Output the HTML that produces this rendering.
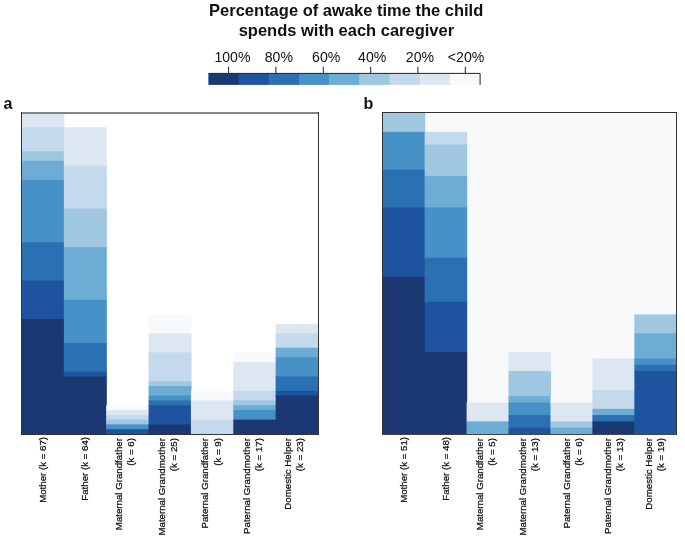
<!DOCTYPE html>
<html><head><meta charset="utf-8"><style>
html,body{margin:0;padding:0;background:#fff;}
svg{display:block;}
text{font-family:"Liberation Sans",sans-serif;fill:#111;}
.lb{stroke:#111;stroke-width:0.25px;}
svg{will-change:transform;}
.tt{font-size:16.5px;font-weight:bold;}
.lg{font-size:14.1px;}
.lb{font-size:9.7px;}
.pl{font-size:16px;font-weight:bold;}
</style></head><body>
<svg width="685" height="539" viewBox="0 0 685 539">
<text x="346.2" y="16.2" text-anchor="middle" class="tt">Percentage of awake time the child</text>
<text x="346.4" y="35.8" text-anchor="middle" class="tt">spends with each caregiver</text>
<rect x="208.40" y="73.40" width="30.69" height="11.50" fill="#1c3873"/>
<rect x="238.59" y="73.40" width="30.69" height="11.50" fill="#1e53a0"/>
<rect x="268.78" y="73.40" width="30.69" height="11.50" fill="#2a70b3"/>
<rect x="298.97" y="73.40" width="30.69" height="11.50" fill="#4691c5"/>
<rect x="329.16" y="73.40" width="30.69" height="11.50" fill="#6dacd5"/>
<rect x="359.34" y="73.40" width="30.69" height="11.50" fill="#9fc8e0"/>
<rect x="389.53" y="73.40" width="30.69" height="11.50" fill="#c5d9ed"/>
<rect x="419.72" y="73.40" width="30.69" height="11.50" fill="#dde7f2"/>
<rect x="449.91" y="73.40" width="30.19" height="11.50" fill="#f7f9fb"/>
<path d="M208.40 73.40H480.10V84.90" fill="none" stroke="#222" stroke-width="1"/>
<path d="M228.60 66.8V73.40" stroke="#222" stroke-width="1"/>
<text x="232.40" y="61.8" text-anchor="middle" class="lg">100%</text>
<path d="M275.90 66.8V73.40" stroke="#222" stroke-width="1"/>
<text x="278.85" y="61.8" text-anchor="middle" class="lg">80%</text>
<path d="M323.30 66.8V73.40" stroke="#222" stroke-width="1"/>
<text x="326.20" y="61.8" text-anchor="middle" class="lg">60%</text>
<path d="M370.70 66.8V73.40" stroke="#222" stroke-width="1"/>
<text x="372.20" y="61.8" text-anchor="middle" class="lg">40%</text>
<path d="M417.90 66.8V73.40" stroke="#222" stroke-width="1"/>
<text x="419.95" y="61.8" text-anchor="middle" class="lg">20%</text>
<path d="M465.30 66.8V73.40" stroke="#222" stroke-width="1"/>
<text x="466.10" y="61.8" text-anchor="middle" class="lg">&lt;20%</text>
<text x="3.5" y="108.6" class="pl">a</text>
<text x="363.6" y="108.6" class="pl">b</text>
<rect x="21.50" y="112.80" width="42.96" height="15.38" fill="#dde7f2"/>
<rect x="21.50" y="127.18" width="42.96" height="24.97" fill="#c5d9ed"/>
<rect x="21.50" y="151.15" width="42.96" height="10.59" fill="#9fc8e0"/>
<rect x="21.50" y="160.74" width="42.96" height="20.18" fill="#6dacd5"/>
<rect x="21.50" y="179.92" width="42.96" height="63.32" fill="#4691c5"/>
<rect x="21.50" y="242.24" width="42.96" height="39.35" fill="#2a70b3"/>
<rect x="21.50" y="280.59" width="42.96" height="39.35" fill="#1e53a0"/>
<rect x="21.50" y="318.94" width="42.96" height="115.56" fill="#1c3873"/>
<rect x="63.86" y="127.18" width="42.96" height="39.35" fill="#dde7f2"/>
<rect x="63.86" y="165.53" width="42.96" height="44.15" fill="#c5d9ed"/>
<rect x="63.86" y="208.68" width="42.96" height="39.35" fill="#9fc8e0"/>
<rect x="63.86" y="247.03" width="42.96" height="53.73" fill="#6dacd5"/>
<rect x="63.86" y="299.77" width="42.96" height="44.15" fill="#4691c5"/>
<rect x="63.86" y="342.91" width="42.96" height="29.76" fill="#2a70b3"/>
<rect x="63.86" y="371.68" width="42.96" height="5.79" fill="#1e53a0"/>
<rect x="63.86" y="376.47" width="42.96" height="58.03" fill="#1c3873"/>
<rect x="106.21" y="405.24" width="42.96" height="5.79" fill="#f7f9fb"/>
<rect x="106.21" y="410.03" width="42.96" height="5.79" fill="#dde7f2"/>
<rect x="106.21" y="414.82" width="42.96" height="5.79" fill="#c5d9ed"/>
<rect x="106.21" y="419.62" width="42.96" height="5.79" fill="#9fc8e0"/>
<rect x="106.21" y="424.41" width="42.96" height="5.79" fill="#4691c5"/>
<rect x="106.21" y="429.21" width="42.96" height="5.29" fill="#1e53a0"/>
<rect x="148.57" y="314.15" width="42.96" height="20.18" fill="#f7f9fb"/>
<rect x="148.57" y="333.33" width="42.96" height="20.18" fill="#dde7f2"/>
<rect x="148.57" y="352.50" width="42.96" height="29.76" fill="#c5d9ed"/>
<rect x="148.57" y="381.27" width="42.96" height="5.79" fill="#9fc8e0"/>
<rect x="148.57" y="386.06" width="42.96" height="10.59" fill="#6dacd5"/>
<rect x="148.57" y="395.65" width="42.96" height="5.79" fill="#4691c5"/>
<rect x="148.57" y="400.44" width="42.96" height="5.79" fill="#2a70b3"/>
<rect x="148.57" y="405.24" width="42.96" height="20.18" fill="#1e53a0"/>
<rect x="148.57" y="424.41" width="42.96" height="10.09" fill="#1c3873"/>
<rect x="190.93" y="390.85" width="42.96" height="10.59" fill="#f7f9fb"/>
<rect x="190.93" y="400.44" width="42.96" height="20.18" fill="#dde7f2"/>
<rect x="190.93" y="419.62" width="42.96" height="14.88" fill="#c5d9ed"/>
<rect x="233.29" y="352.50" width="42.96" height="10.59" fill="#f7f9fb"/>
<rect x="233.29" y="362.09" width="42.96" height="29.76" fill="#dde7f2"/>
<rect x="233.29" y="390.85" width="42.96" height="10.59" fill="#c5d9ed"/>
<rect x="233.29" y="400.44" width="42.96" height="5.79" fill="#9fc8e0"/>
<rect x="233.29" y="405.24" width="42.96" height="5.79" fill="#6dacd5"/>
<rect x="233.29" y="410.03" width="42.96" height="10.59" fill="#4691c5"/>
<rect x="233.29" y="419.62" width="42.96" height="14.88" fill="#1c3873"/>
<rect x="275.64" y="323.74" width="42.36" height="10.59" fill="#dde7f2"/>
<rect x="275.64" y="333.33" width="42.36" height="15.38" fill="#c5d9ed"/>
<rect x="275.64" y="347.71" width="42.36" height="10.59" fill="#6dacd5"/>
<rect x="275.64" y="357.30" width="42.36" height="20.18" fill="#4691c5"/>
<rect x="275.64" y="376.47" width="42.36" height="15.38" fill="#2a70b3"/>
<rect x="275.64" y="390.85" width="42.36" height="5.79" fill="#1e53a0"/>
<rect x="275.64" y="395.65" width="42.36" height="38.85" fill="#1c3873"/>
<text transform="translate(45.50,436.90) rotate(-90)" text-anchor="end" class="lb">Mother (k = 67)</text>
<text transform="translate(87.90,436.90) rotate(-90)" text-anchor="end" class="lb">Father (k = 64)</text>
<text transform="translate(121.80,438.10) rotate(-90)" text-anchor="end" class="lb">Maternal Grandfather</text>
<text transform="translate(133.70,438.10) rotate(-90)" text-anchor="end" class="lb">(k = 6)</text>
<text transform="translate(165.30,438.10) rotate(-90)" text-anchor="end" class="lb">Maternal Grandmother</text>
<text transform="translate(176.80,438.10) rotate(-90)" text-anchor="end" class="lb">(k = 25)</text>
<text transform="translate(208.40,438.10) rotate(-90)" text-anchor="end" class="lb">Paternal Grandfather</text>
<text transform="translate(220.70,438.10) rotate(-90)" text-anchor="end" class="lb">(k = 9)</text>
<text transform="translate(250.30,438.10) rotate(-90)" text-anchor="end" class="lb">Paternal Grandmother</text>
<text transform="translate(261.80,438.10) rotate(-90)" text-anchor="end" class="lb">(k = 17)</text>
<text transform="translate(291.20,438.10) rotate(-90)" text-anchor="end" class="lb">Domestic Helper</text>
<text transform="translate(302.70,438.10) rotate(-90)" text-anchor="end" class="lb">(k = 23)</text>
<rect x="382.70" y="113.00" width="293.60" height="321.00" fill="#f7f9fb"/>
<rect x="382.70" y="113.00" width="293.60" height="0.8" fill="#fdfdfe"/>
<rect x="382.70" y="113.00" width="42.54" height="19.88" fill="#9fc8e0"/>
<rect x="382.70" y="131.88" width="42.54" height="38.76" fill="#4691c5"/>
<rect x="382.70" y="169.65" width="42.54" height="38.76" fill="#2a70b3"/>
<rect x="382.70" y="207.41" width="42.54" height="70.24" fill="#1e53a0"/>
<rect x="382.70" y="276.65" width="42.54" height="157.85" fill="#1c3873"/>
<rect x="424.64" y="131.88" width="42.54" height="13.59" fill="#c5d9ed"/>
<rect x="424.64" y="144.47" width="42.54" height="32.47" fill="#9fc8e0"/>
<rect x="424.64" y="175.94" width="42.54" height="32.47" fill="#6dacd5"/>
<rect x="424.64" y="207.41" width="42.54" height="51.35" fill="#4691c5"/>
<rect x="424.64" y="257.76" width="42.54" height="45.06" fill="#2a70b3"/>
<rect x="424.64" y="301.82" width="42.54" height="51.35" fill="#1e53a0"/>
<rect x="424.64" y="352.18" width="42.54" height="82.32" fill="#1c3873"/>
<rect x="466.59" y="402.53" width="42.54" height="19.88" fill="#dde7f2"/>
<rect x="466.59" y="421.41" width="42.54" height="13.09" fill="#6dacd5"/>
<rect x="508.53" y="352.18" width="42.54" height="19.88" fill="#dde7f2"/>
<rect x="508.53" y="371.06" width="42.54" height="26.18" fill="#9fc8e0"/>
<rect x="508.53" y="396.24" width="42.54" height="7.29" fill="#6dacd5"/>
<rect x="508.53" y="402.53" width="42.54" height="13.59" fill="#4691c5"/>
<rect x="508.53" y="415.12" width="42.54" height="13.59" fill="#2a70b3"/>
<rect x="508.53" y="427.71" width="42.54" height="6.79" fill="#1e53a0"/>
<rect x="550.47" y="396.24" width="42.54" height="7.29" fill="#f7f9fb"/>
<rect x="550.47" y="402.53" width="42.54" height="19.88" fill="#dde7f2"/>
<rect x="550.47" y="421.41" width="42.54" height="7.29" fill="#9fc8e0"/>
<rect x="550.47" y="427.71" width="42.54" height="6.79" fill="#6dacd5"/>
<rect x="592.41" y="352.18" width="42.54" height="7.29" fill="#f7f9fb"/>
<rect x="592.41" y="358.47" width="42.54" height="32.47" fill="#dde7f2"/>
<rect x="592.41" y="389.94" width="42.54" height="19.88" fill="#c5d9ed"/>
<rect x="592.41" y="408.82" width="42.54" height="7.29" fill="#6dacd5"/>
<rect x="592.41" y="415.12" width="42.54" height="7.29" fill="#2a70b3"/>
<rect x="592.41" y="421.41" width="42.54" height="13.09" fill="#1c3873"/>
<rect x="634.36" y="314.41" width="41.94" height="19.88" fill="#9fc8e0"/>
<rect x="634.36" y="333.29" width="41.94" height="26.18" fill="#6dacd5"/>
<rect x="634.36" y="358.47" width="41.94" height="7.29" fill="#4691c5"/>
<rect x="634.36" y="364.76" width="41.94" height="7.29" fill="#2a70b3"/>
<rect x="634.36" y="371.06" width="41.94" height="63.44" fill="#1e53a0"/>
<text transform="translate(406.60,436.90) rotate(-90)" text-anchor="end" class="lb">Mother (k = 51)</text>
<text transform="translate(448.50,436.90) rotate(-90)" text-anchor="end" class="lb">Father (k = 48)</text>
<text transform="translate(482.80,438.10) rotate(-90)" text-anchor="end" class="lb">Maternal Grandfather</text>
<text transform="translate(494.70,438.10) rotate(-90)" text-anchor="end" class="lb">(k = 5)</text>
<text transform="translate(525.90,438.10) rotate(-90)" text-anchor="end" class="lb">Maternal Grandmother</text>
<text transform="translate(538.00,438.10) rotate(-90)" text-anchor="end" class="lb">(k = 13)</text>
<text transform="translate(570.20,438.10) rotate(-90)" text-anchor="end" class="lb">Paternal Grandfather</text>
<text transform="translate(581.80,438.10) rotate(-90)" text-anchor="end" class="lb">(k = 6)</text>
<text transform="translate(610.90,438.10) rotate(-90)" text-anchor="end" class="lb">Paternal Grandmother</text>
<text transform="translate(623.00,438.10) rotate(-90)" text-anchor="end" class="lb">(k = 13)</text>
<text transform="translate(652.20,438.10) rotate(-90)" text-anchor="end" class="lb">Domestic Helper</text>
<text transform="translate(664.20,438.10) rotate(-90)" text-anchor="end" class="lb">(k = 19)</text>
<rect x="21" y="112" width="1" height="323" fill="#333"/>
<rect x="318" y="112" width="1" height="323" fill="#333"/>
<rect x="21" y="434" width="298" height="1" fill="#333"/>
<rect x="22" y="112" width="296" height="2" fill="#858585"/>
<rect x="382" y="112" width="1" height="323" fill="#333"/>
<rect x="676" y="112" width="1" height="323" fill="#333"/>
<rect x="382" y="434" width="295" height="1" fill="#444"/>
<rect x="382" y="112" width="295" height="1" fill="#333"/>
</svg>
</body></html>
